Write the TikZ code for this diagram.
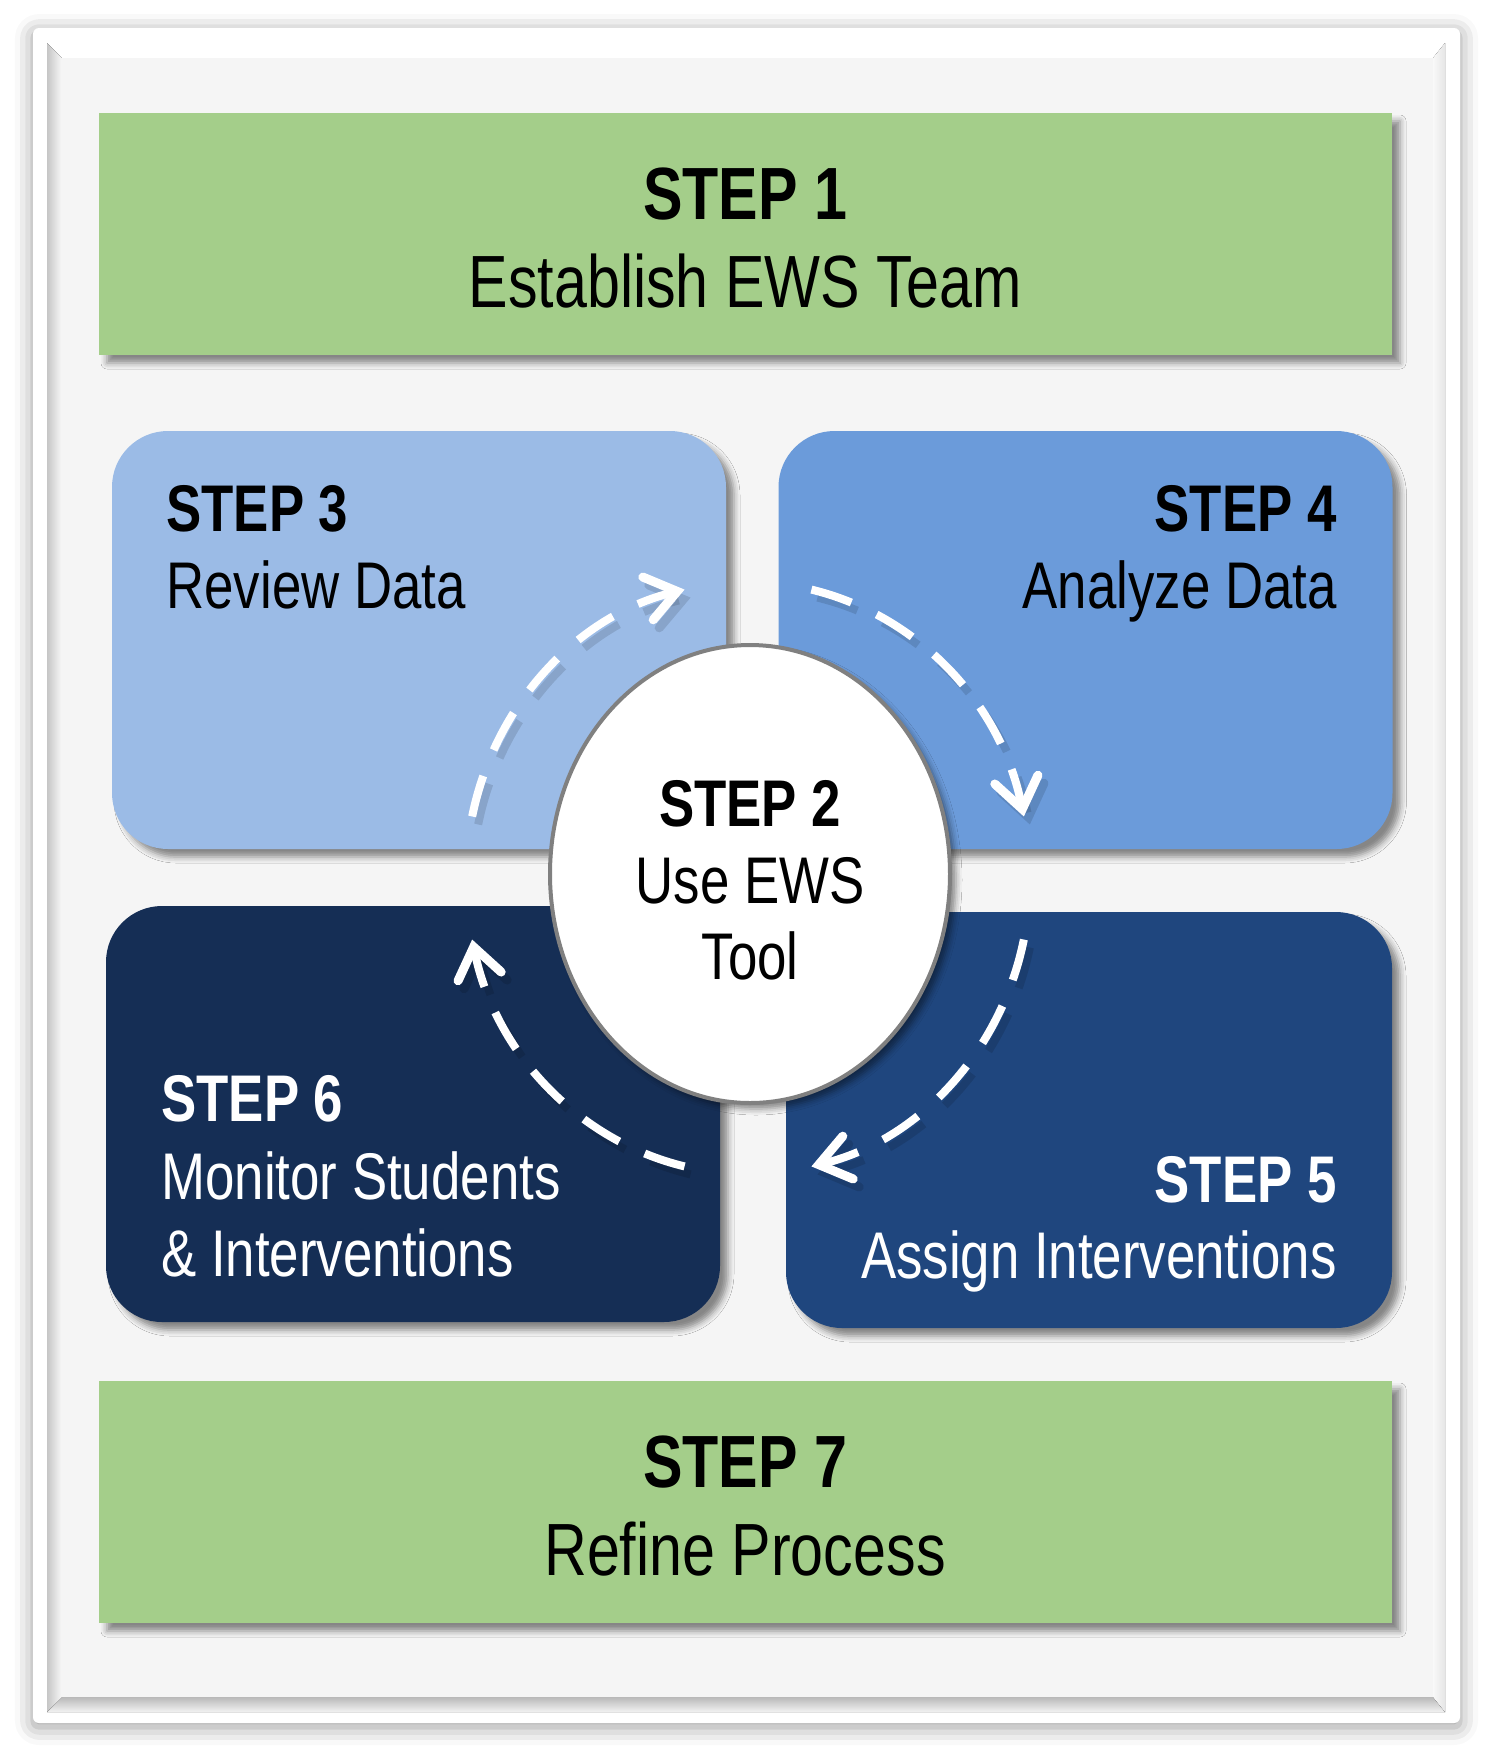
\documentclass[tikz,border=0pt]{standalone}
\usepackage{fontspec}
\setmainfont{Liberation Sans}[FakeStretch=0.8]
\usetikzlibrary{shapes.geometric,shadows.blur,arrows.meta}
\definecolor{stepgreen}{HTML}{A4CE8A}
\definecolor{reviewblue}{HTML}{9BBBE6}
\definecolor{analyzeblue}{HTML}{6B9BDA}
\definecolor{assignblue}{HTML}{1F467E}
\definecolor{monitorblue}{HTML}{152E55}
\definecolor{facegray}{HTML}{F5F5F5}
\begin{document}
\begin{tikzpicture}[x=0.5pt,y=-0.5pt,
  panel/.style={rectangle,inner sep=0pt,
    blur shadow={shadow xshift=4pt,shadow yshift=-4pt,shadow blur radius=3pt,shadow opacity=45}},
  tile/.style={panel,rounded corners=28pt,minimum width=307pt,minimum height=209pt},
  band/.style={panel,fill=stepgreen,minimum width=646.5pt,minimum height=121pt},
  head/.style={inner sep=0pt,font=\fontsize{33}{39}\selectfont\bfseries},
  body/.style={inner sep=0pt,font=\fontsize{33}{39}\selectfont},
  bighead/.style={inner sep=0pt,font=\fontsize{37}{44}\selectfont\bfseries},
  bigbody/.style={inner sep=0pt,font=\fontsize{37}{44}\selectfont},
  arc line/.style={line width=4pt,dash pattern=on 21pt off 14pt,
    -{Straight Barb[length=15pt,width=22pt,line width=4.5pt,line cap=round,line join=miter]}},
  flow/.style={arc line,draw=white,
    preaction={arc line,draw=black,draw opacity=.12,transform canvas={xshift=3pt,yshift=-4pt}}}]
  \useasboundingbox (0,0) rectangle (1493,1763);
  % frame
  \node[rectangle,fill=white,rounded corners=3pt,minimum width=713.5pt,minimum height=847.5pt,
    blur shadow={shadow xshift=0pt,shadow yshift=-2pt,shadow blur radius=9pt,shadow opacity=40}] (frame) at (746.5,875.5) {};
  \fill[top color=gray!55,bottom color=gray!10] (47,1712) -- (62,1697) -- (1433,1697) -- (1445,1712) -- cycle;
  \fill[left color=gray!45,right color=gray!5] (47,43) -- (62,58) -- (62,1697) -- (47,1712) -- cycle;
  \fill[left color=gray!5,right color=gray!20] (1445,43) -- (1445,1712) -- (1433,1697) -- (1433,58) -- cycle;
  \node[rectangle,fill=facegray,inner sep=0pt,minimum width=685.5pt,minimum height=819.5pt] (face) at (747.5,877.5) {};
  % boxes
  \node[band] (s1) at (745.5,234) {};
  \node[band] (s7) at (745.5,1502) {};
  \node[tile,fill=reviewblue] (s3) at (419,640) {};
  \node[tile,fill=analyzeblue] (s4) at (1085.5,640) {};
  \node[tile,fill=monitorblue,minimum height=208pt] (s6) at (413,1114) {};
  \node[tile,fill=assignblue,minimum width=303pt,minimum height=208pt] (s5) at (1089,1120) {};
  % cycle
  \coordinate (hub) at (748,878);
  \draw[flow] ([shift={(-168:282 and 296)}]hub) arc[start angle=-168,end angle=-103,x radius=282,y radius=296];
  \draw[flow] ([shift={(-77:282 and 296)}]hub) arc[start angle=-77,end angle=-12,x radius=282,y radius=296];
  \draw[flow] ([shift={(12:282 and 296)}]hub) arc[start angle=12,end angle=77,x radius=282,y radius=296];
  \draw[flow] ([shift={(103:282 and 296)}]hub) arc[start angle=103,end angle=168,x radius=282,y radius=296];
  \node[ellipse,draw=gray,line width=2pt,fill=white,minimum width=200pt,minimum height=229pt,
    blur shadow={shadow xshift=3pt,shadow yshift=-3pt,shadow blur radius=3pt,shadow opacity=45}] (s2) at (750,874) {};
  % texts
  \node[bighead,anchor=base] (s1h) at (745,219) {STEP 1};
  \node[bigbody,anchor=base] (s1b) at (745,307) {Establish EWS Team};
  \node[head,anchor=base] (s2h) at (750,826) {STEP 2};
  \node[body,anchor=base] (s2b) at (750,903) {Use EWS};
  \node[body,anchor=base] (s2c) at (750,979) {Tool};
  \node[head,anchor=base west] (s3h) at (166,531) {STEP 3};
  \node[body,anchor=base west] (s3b) at (166,608) {Review Data};
  \node[head,anchor=base east] (s4h) at (1337,531) {STEP 4};
  \node[body,anchor=base east] (s4b) at (1337,608) {Analyze Data};
  \node[head,anchor=base east,white] (s5h) at (1337,1202) {STEP 5};
  \node[body,anchor=base east,white] (s5b) at (1337,1278) {Assign Interventions};
  \node[head,anchor=base west,white] (s6h) at (161,1121) {STEP 6};
  \node[body,anchor=base west,white] (s6b) at (161,1199) {Monitor Students};
  \node[body,anchor=base west,white] (s6c) at (161,1276) {\& Interventions};
  \node[bighead,anchor=base] (s7h) at (745,1487) {STEP 7};
  \node[bigbody,anchor=base] (s7b) at (745,1575) {Refine Process};
\end{tikzpicture}
\end{document}
